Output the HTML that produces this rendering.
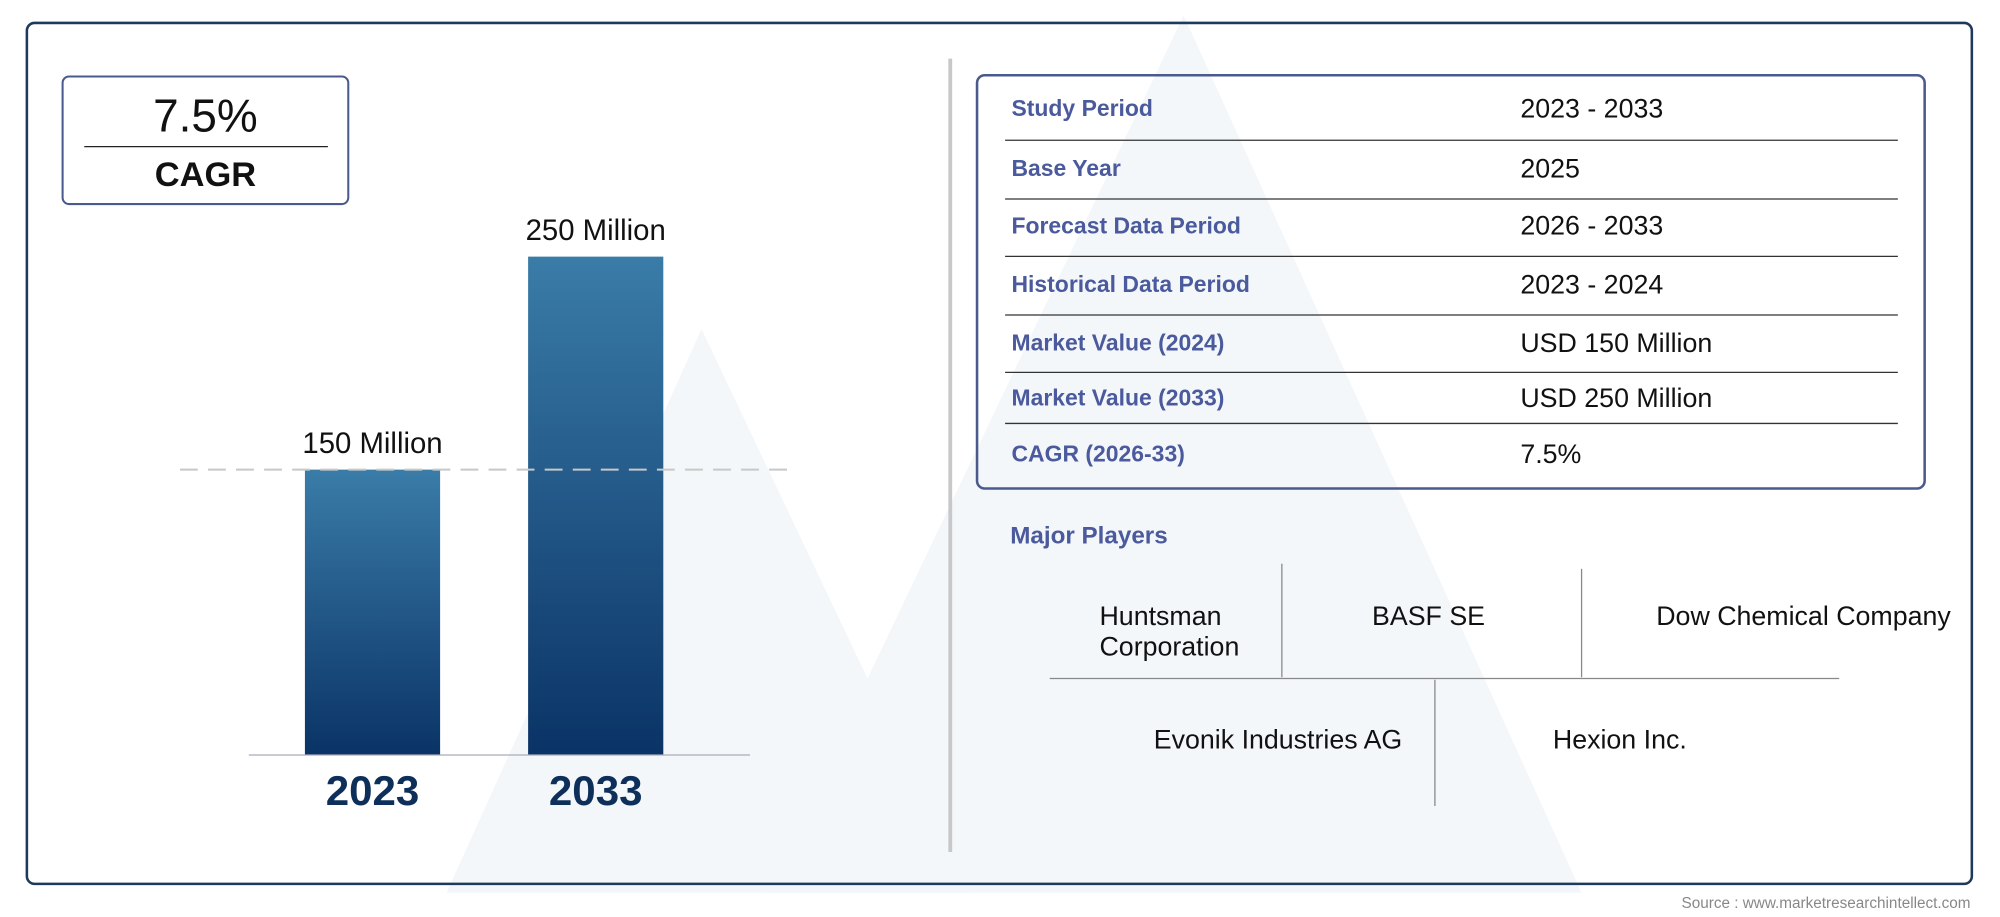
<!DOCTYPE html>
<html><head><meta charset="utf-8"><style>
html,body{margin:0;padding:0;background:#fff}
svg{display:block}
.lbl{font-family:"Liberation Sans",sans-serif}
</style></head><body>
<svg id="chart" width="2000" height="917" viewBox="0 0 1568 719" xmlns="http://www.w3.org/2000/svg">
<defs>
<linearGradient id="bg" x1="0" y1="0" x2="0" y2="1">
<stop offset="0" stop-color="#3a7ca8"/><stop offset="1" stop-color="#0a3366"/>
</linearGradient>
</defs>
<g fill="#f4f7fa">
<polygon points="350,700 550,258 760,700"/>
<polygon points="600,700 928,12 1240,700"/>
</g>
<rect x="21" y="18" width="1525" height="675" rx="6" fill="none" stroke="#1d3a5c" stroke-width="2"/>
<g>
<rect x="49" y="60" width="224" height="100" rx="5" fill="#fff" stroke="#4a5a8c" stroke-width="1.6"/>
<text x="161" y="103" text-anchor="middle" class="lbl" font-size="36" fill="#111">7.5%</text>
<line x1="66" y1="115" x2="257" y2="115" stroke="#222" stroke-width="1"/>
<text x="161" y="146" text-anchor="middle" class="lbl" font-size="27" font-weight="bold" fill="#111">CAGR</text>
</g>
<g id="bars"></g>
<line x1="745" y1="46" x2="745" y2="668" stroke="#c8c8c8" stroke-width="3"/>
<g id="table">
<rect x="766" y="59" width="743" height="324" rx="6" fill="none" stroke="#4a5a8c" stroke-width="2"/>
</g>
<text x="792" y="426" class="lbl" font-size="19" font-weight="bold" fill="#4a5a9c">Major Players</text>
<g stroke="#888" stroke-width="1">
<line x1="1005" y1="442" x2="1005" y2="531"/>
<line x1="1240" y1="446" x2="1240" y2="531"/>
<line x1="823" y1="532" x2="1442" y2="532"/>
<line x1="1125" y1="533" x2="1125" y2="632"/>
</g>
<g class="lbl" font-size="21" fill="#111">
<text x="862" y="490">Huntsman<tspan x="862" dy="24">Corporation</tspan></text>
<text x="1120" y="490" text-anchor="middle">BASF SE</text>
<text x="1414" y="490" text-anchor="middle">Dow Chemical Company</text>
<text x="1002" y="587" text-anchor="middle">Evonik Industries AG</text>
<text x="1270" y="587" text-anchor="middle">Hexion Inc.</text>
</g>
<text x="1545" y="712" text-anchor="end" class="lbl" font-size="12" fill="#888">Source : www.marketresearchintellect.com</text>
</svg>
<script>
const categories = ["2023", "2033"];
const values = [150, 250];
const valueLabels = ["150 Million", "250 Million"];
const rowLabels = ["Study Period","Base Year","Forecast Data Period","Historical Data Period","Market Value (2024)","Market Value (2033)","CAGR (2026-33)"];
const rowValues = ["2023 - 2033","2025","2026 - 2033","2023 - 2024","USD 150 Million","USD 250 Million","7.5%"];

const NS = "http://www.w3.org/2000/svg";
const baseY = 592, vMin = 16, k = 1.67;
function yScale(v){ return baseY - (v - vMin) * k; }
function xScale(i){ return 239 + i * 175; }
const bw = 106;
const g = document.getElementById('bars');
function mk(tag, attrs){ const e = document.createElementNS(NS, tag); for (const a in attrs) e.setAttribute(a, attrs[a]); return e; }

const dash = mk('line', {x1:141, x2:618, y1:yScale(values[0]), y2:yScale(values[0]), stroke:'#c8c8c8', 'stroke-width':1.5, 'stroke-dasharray':'14 8'});


categories.forEach((c, i) => {
  const x = xScale(i), y = yScale(values[i]);
  const r = mk('rect', {x:x, y:y, width:bw, height:baseY - y, fill:'url(#bg)'});
  
  
  g.appendChild(r);
  const t = mk('text', {x:x + bw/2, y:y - 13, 'text-anchor':'middle', 'font-size':23, fill:'#111', 'class':'lbl'});
  t.textContent = valueLabels[i];
  
  
  g.appendChild(t);
  const xl = mk('text', {x:x + bw/2, y:631, 'text-anchor':'middle', 'font-size':33, 'font-weight':'bold', fill:'#0d2f5a', 'class':'lbl'});
  xl.textContent = c;
  
  
  g.appendChild(xl);
});
g.appendChild(dash);
const ax = mk('line', {x1:195, x2:588, y1:baseY, y2:baseY, stroke:'#aab', 'stroke-width':1});


g.appendChild(ax);

const tb = document.getElementById('table');
const rowYs = [92, 139, 184, 230, 276, 319, 363];
const sepYs = [110, 156, 201, 247, 292, 332];
rowLabels.forEach((l, i) => {
  const a = mk('text', {x:793, y:rowYs[i] - 1, 'font-size':18, 'font-weight':'bold', fill:'#4a5a9c', 'class':'lbl'});
  a.textContent = l;
  
  
  tb.appendChild(a);
  const b = mk('text', {x:1192, y:rowYs[i], 'font-size':21, fill:'#111', 'class':'lbl'});
  b.textContent = rowValues[i];
  
  
  tb.appendChild(b);
});
sepYs.forEach(y => {
  const s = mk('line', {x1:788, x2:1488, y1:y, y2:y, stroke:'#333', 'stroke-width':1});
  
  
  tb.appendChild(s);
});
</script>
</body></html>
